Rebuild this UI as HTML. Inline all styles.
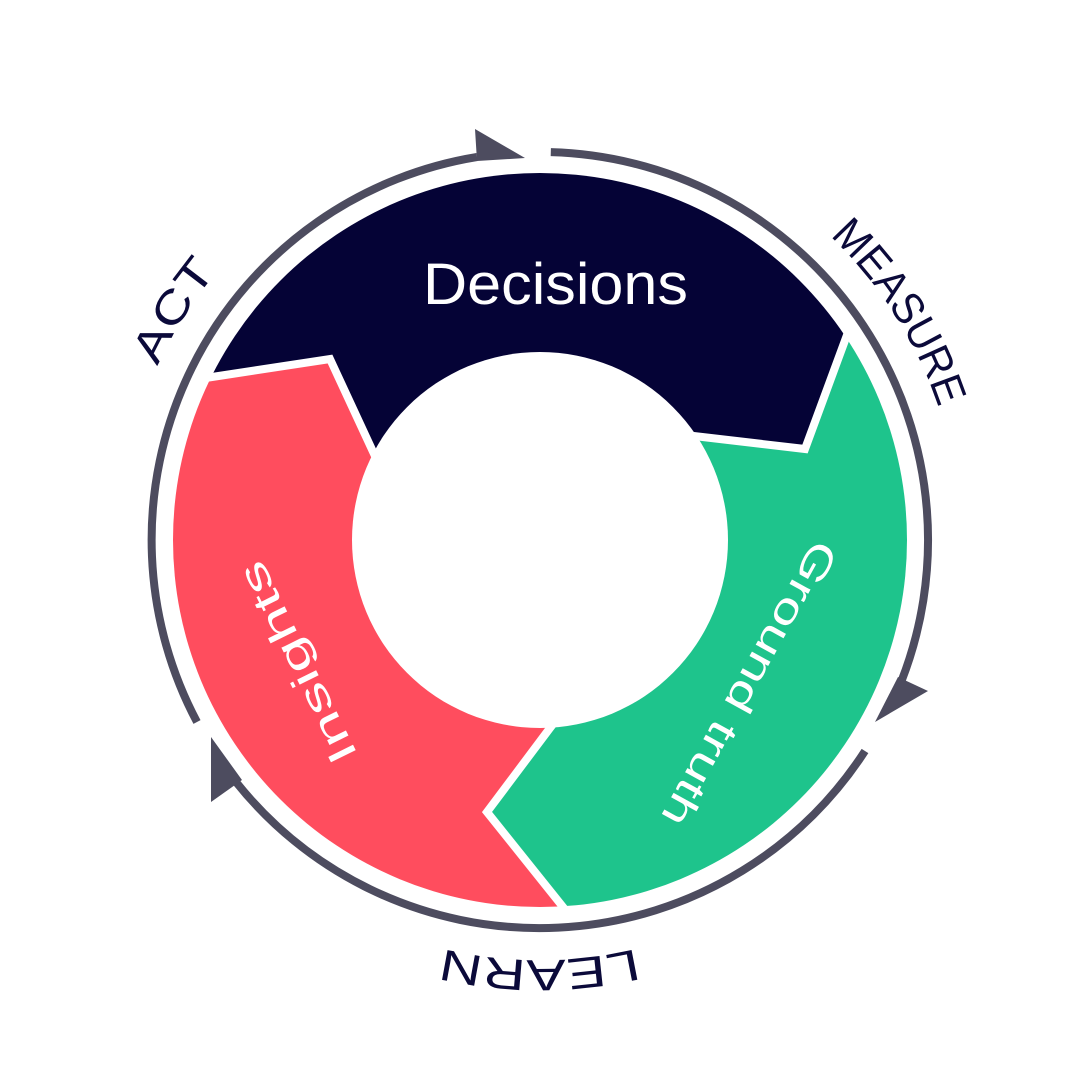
<!DOCTYPE html>
<html><head><meta charset="utf-8"><style>
html,body{margin:0;padding:0;background:#fff;}
svg{display:block;}
</style></head><body>
<svg width="1080" height="1080" viewBox="0 0 1080 1080" xmlns="http://www.w3.org/2000/svg">
<defs>
<mask id="ring">
<rect width="1080" height="1080" fill="#000"/>
<circle cx="540" cy="540" r="367" fill="#fff"/>
<circle cx="540" cy="540" r="188" fill="#000"/>
</mask>
<path id="circ" d="M 960 540 A 420 420 0 1 1 120 540 A 420 420 0 1 1 960 540"/>
</defs>
<rect width="1080" height="1080" fill="#fff"/>
<g mask="url(#ring)">
<polygon fill="#050336" points="373,452 330,359 212,377 100,395 100,0 1000,0 880,245 847,335 805,449 697,438 540,540"/>
<polygon fill="#ff4d5e" points="373,452 330,359 212,377 100,395 0,400 0,1080 620,1080 620,980 563,907 487,812 550,728 540,540"/>
<polygon fill="#1ec48c" points="540,540 550,728 487,812 563,907 620,980 620,1080 1080,1080 1080,200 880,245 847,335 805,449 697,438"/>
<g fill="none" stroke="#fff" stroke-width="8" stroke-linejoin="miter">
<polyline points="100,395 212,377 330,359 400,510"/>
<polyline points="900,190 847,335 805,449 600,425"/>
<polyline points="560,715 550,728 487,812 563,907 620,980"/>
</g>
</g>
<g fill="none" stroke="#4d4c5f" stroke-width="8">
<path d="M 197 722 A 388 388 0 0 1 477 157"/>
<path d="M 550.8 152.1 A 388 388 0 0 1 901.5 681"/>
<path d="M 865 751 A 388 388 0 0 1 236 782"/>
</g>
<g fill="#4d4c5f">
<polygon points="475,129 525,158 477,161"/>
<polygon points="928,691 875,722 898,677"/>
<polygon points="211,802 211,737 242,780"/>
</g>
<text x="423" y="304" font-family="Liberation Sans, sans-serif" font-size="58" fill="#fff" textLength="265" lengthAdjust="spacingAndGlyphs">Decisions</text>
<text transform="translate(297,663) rotate(243.7)" x="0" y="14" text-anchor="middle" font-family="Liberation Sans, sans-serif" font-size="40" fill="#fff" textLength="220" lengthAdjust="spacingAndGlyphs">Insights</text>
<text transform="translate(750,684) rotate(119)" x="0" y="14" text-anchor="middle" font-family="Liberation Sans, sans-serif" font-size="40" fill="#fff" textLength="320" lengthAdjust="spacingAndGlyphs">Ground truth</text>
<g font-family="Liberation Sans, sans-serif" font-size="44" fill="#0b0a3a">
<text><textPath href="#circ" startOffset="660" text-anchor="middle" textLength="195" lengthAdjust="spacingAndGlyphs">LEARN</textPath></text>
<text><textPath href="#circ" startOffset="1554" text-anchor="middle" textLength="112" lengthAdjust="spacingAndGlyphs">ACT</textPath></text>
<text><textPath href="#circ" startOffset="2401" text-anchor="middle" textLength="205" lengthAdjust="spacingAndGlyphs">MEASURE</textPath></text>
</g>
</svg>
</body></html>
